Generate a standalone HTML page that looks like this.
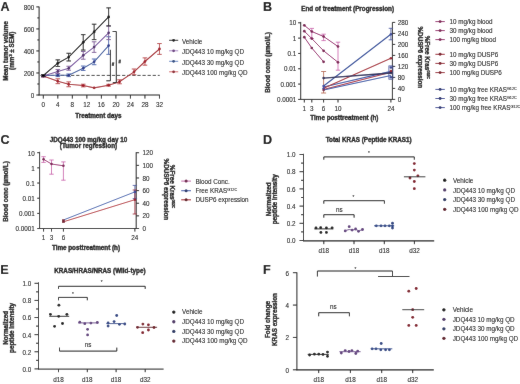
<!DOCTYPE html>
<html><head><meta charset="utf-8"><style>
html,body{margin:0;padding:0;background:#fff;}
body{width:520px;height:384px;overflow:hidden;}
svg{display:block;font-family:"Liberation Sans",sans-serif;}
</style></head><body>
<svg width="520" height="384" viewBox="0 0 520 384">
<defs><filter id="bl" x="0" y="0" width="520" height="384" filterUnits="userSpaceOnUse"><feConvolveMatrix order="3" kernelMatrix="1 2 1 2 60 2 1 2 1" divisor="72" edgeMode="duplicate" preserveAlpha="true"/></filter></defs>
<rect width="520" height="384" fill="#fff"/>
<g filter="url(#bl)"><rect width="520" height="384" fill="#fff"/>
<text x="0.6" y="10.8" font-size="12.6" font-weight="bold" fill="#000" stroke="#000" stroke-width="0.12">A</text>
<text x="263.0" y="10.8" font-size="12.6" font-weight="bold" fill="#000" stroke="#000" stroke-width="0.12">B</text>
<text x="0.4" y="143.5" font-size="12.6" font-weight="bold" fill="#000" stroke="#000" stroke-width="0.12">C</text>
<text x="262.9" y="143.5" font-size="12.6" font-weight="bold" fill="#000" stroke="#000" stroke-width="0.12">D</text>
<text x="0.2" y="274.1" font-size="12.6" font-weight="bold" fill="#000" stroke="#000" stroke-width="0.12">E</text>
<text x="263.1" y="274.1" font-size="12.6" font-weight="bold" fill="#000" stroke="#000" stroke-width="0.12">F</text>
<line x1="39.10" y1="6.60" x2="39.10" y2="95.40" stroke="#1a1a1a" stroke-width="1.0"/>
<line x1="36.30" y1="95.00" x2="39.10" y2="95.00" stroke="#1a1a1a" stroke-width="1.0"/>
<text x="34.20" y="97.77" font-size="6.3" text-anchor="end" fill="#111" stroke="#111" stroke-width="0.08">0</text>
<line x1="37.30" y1="83.99" x2="39.10" y2="83.99" stroke="#1a1a1a" stroke-width="1.0"/>
<line x1="36.30" y1="72.97" x2="39.10" y2="72.97" stroke="#1a1a1a" stroke-width="1.0"/>
<text x="34.20" y="75.74" font-size="6.3" text-anchor="end" fill="#111" stroke="#111" stroke-width="0.08">200</text>
<line x1="37.30" y1="61.96" x2="39.10" y2="61.96" stroke="#1a1a1a" stroke-width="1.0"/>
<line x1="36.30" y1="50.95" x2="39.10" y2="50.95" stroke="#1a1a1a" stroke-width="1.0"/>
<text x="34.20" y="53.72" font-size="6.3" text-anchor="end" fill="#111" stroke="#111" stroke-width="0.08">400</text>
<line x1="37.30" y1="39.94" x2="39.10" y2="39.94" stroke="#1a1a1a" stroke-width="1.0"/>
<line x1="36.30" y1="28.93" x2="39.10" y2="28.93" stroke="#1a1a1a" stroke-width="1.0"/>
<text x="34.20" y="31.69" font-size="6.3" text-anchor="end" fill="#111" stroke="#111" stroke-width="0.08">600</text>
<line x1="37.30" y1="17.91" x2="39.10" y2="17.91" stroke="#1a1a1a" stroke-width="1.0"/>
<line x1="36.30" y1="6.90" x2="39.10" y2="6.90" stroke="#1a1a1a" stroke-width="1.0"/>
<text x="34.20" y="9.67" font-size="6.3" text-anchor="end" fill="#111" stroke="#111" stroke-width="0.08">800</text>
<line x1="38.60" y1="95.00" x2="159.90" y2="95.00" stroke="#1a1a1a" stroke-width="1.0"/>
<line x1="43.30" y1="95.00" x2="43.30" y2="98.60" stroke="#1a1a1a" stroke-width="1.0"/>
<text x="43.30" y="106.97" font-size="6.3" text-anchor="middle" fill="#111" stroke="#111" stroke-width="0.08">0</text>
<line x1="57.82" y1="95.00" x2="57.82" y2="98.60" stroke="#1a1a1a" stroke-width="1.0"/>
<text x="57.82" y="106.97" font-size="6.3" text-anchor="middle" fill="#111" stroke="#111" stroke-width="0.08">4</text>
<line x1="72.34" y1="95.00" x2="72.34" y2="98.60" stroke="#1a1a1a" stroke-width="1.0"/>
<text x="72.34" y="106.97" font-size="6.3" text-anchor="middle" fill="#111" stroke="#111" stroke-width="0.08">8</text>
<line x1="86.86" y1="95.00" x2="86.86" y2="98.60" stroke="#1a1a1a" stroke-width="1.0"/>
<text x="86.86" y="106.97" font-size="6.3" text-anchor="middle" fill="#111" stroke="#111" stroke-width="0.08">12</text>
<line x1="101.38" y1="95.00" x2="101.38" y2="98.60" stroke="#1a1a1a" stroke-width="1.0"/>
<text x="101.38" y="106.97" font-size="6.3" text-anchor="middle" fill="#111" stroke="#111" stroke-width="0.08">16</text>
<line x1="115.90" y1="95.00" x2="115.90" y2="98.60" stroke="#1a1a1a" stroke-width="1.0"/>
<text x="115.90" y="106.97" font-size="6.3" text-anchor="middle" fill="#111" stroke="#111" stroke-width="0.08">20</text>
<line x1="130.42" y1="95.00" x2="130.42" y2="98.60" stroke="#1a1a1a" stroke-width="1.0"/>
<text x="130.42" y="106.97" font-size="6.3" text-anchor="middle" fill="#111" stroke="#111" stroke-width="0.08">24</text>
<line x1="144.94" y1="95.00" x2="144.94" y2="98.60" stroke="#1a1a1a" stroke-width="1.0"/>
<text x="144.94" y="106.97" font-size="6.3" text-anchor="middle" fill="#111" stroke="#111" stroke-width="0.08">28</text>
<line x1="159.46" y1="95.00" x2="159.46" y2="98.60" stroke="#1a1a1a" stroke-width="1.0"/>
<text x="159.46" y="106.97" font-size="6.3" text-anchor="middle" fill="#111" stroke="#111" stroke-width="0.08">32</text>
<text x="98.30" y="118.27" font-size="6.3" text-anchor="middle" font-weight="bold" fill="#111" stroke="#111" stroke-width="0.32">Treatment days</text>
<text x="7.70" y="51.00" font-size="6.3" text-anchor="middle" font-weight="bold" fill="#111" stroke="#111" stroke-width="0.32" transform="rotate(-90 7.70 51.00)">Mean tumor volume</text>
<text x="14.40" y="50.80" font-size="6.3" text-anchor="middle" font-weight="bold" fill="#111" stroke="#111" stroke-width="0.32" transform="rotate(-90 14.40 50.80)">(mm<tspan font-size="4" dy="-2">3</tspan><tspan dy="2"> ± SEM)</tspan></text>
<line x1="40.50" y1="75.40" x2="159.70" y2="75.40" stroke="#222" stroke-width="0.9" stroke-dasharray="3.2,1.9"/>
<line x1="43.30" y1="75.18" x2="43.30" y2="76.94" stroke="#b84448" stroke-width="0.95"/>
<line x1="41.00" y1="75.18" x2="45.60" y2="75.18" stroke="#b84448" stroke-width="0.95"/>
<line x1="41.00" y1="76.94" x2="45.60" y2="76.94" stroke="#b84448" stroke-width="0.95"/>
<line x1="57.82" y1="78.81" x2="57.82" y2="83.66" stroke="#b84448" stroke-width="0.95"/>
<line x1="55.52" y1="78.81" x2="60.12" y2="78.81" stroke="#b84448" stroke-width="0.95"/>
<line x1="55.52" y1="83.66" x2="60.12" y2="83.66" stroke="#b84448" stroke-width="0.95"/>
<line x1="68.71" y1="81.90" x2="68.71" y2="86.74" stroke="#b84448" stroke-width="0.95"/>
<line x1="66.41" y1="81.90" x2="71.01" y2="81.90" stroke="#b84448" stroke-width="0.95"/>
<line x1="66.41" y1="86.74" x2="71.01" y2="86.74" stroke="#b84448" stroke-width="0.95"/>
<line x1="83.23" y1="84.21" x2="83.23" y2="86.85" stroke="#b84448" stroke-width="0.95"/>
<line x1="80.93" y1="84.21" x2="85.53" y2="84.21" stroke="#b84448" stroke-width="0.95"/>
<line x1="80.93" y1="86.85" x2="85.53" y2="86.85" stroke="#b84448" stroke-width="0.95"/>
<line x1="108.64" y1="84.32" x2="108.64" y2="86.08" stroke="#b84448" stroke-width="0.95"/>
<line x1="106.34" y1="84.32" x2="110.94" y2="84.32" stroke="#b84448" stroke-width="0.95"/>
<line x1="106.34" y1="86.08" x2="110.94" y2="86.08" stroke="#b84448" stroke-width="0.95"/>
<line x1="119.53" y1="79.80" x2="119.53" y2="83.77" stroke="#b84448" stroke-width="0.95"/>
<line x1="117.23" y1="79.80" x2="121.83" y2="79.80" stroke="#b84448" stroke-width="0.95"/>
<line x1="117.23" y1="83.77" x2="121.83" y2="83.77" stroke="#b84448" stroke-width="0.95"/>
<line x1="134.05" y1="69.01" x2="134.05" y2="74.74" stroke="#b84448" stroke-width="0.95"/>
<line x1="131.75" y1="69.01" x2="136.35" y2="69.01" stroke="#b84448" stroke-width="0.95"/>
<line x1="131.75" y1="74.74" x2="136.35" y2="74.74" stroke="#b84448" stroke-width="0.95"/>
<line x1="144.94" y1="57.89" x2="144.94" y2="65.16" stroke="#b84448" stroke-width="0.95"/>
<line x1="142.64" y1="57.89" x2="147.24" y2="57.89" stroke="#b84448" stroke-width="0.95"/>
<line x1="142.64" y1="65.16" x2="147.24" y2="65.16" stroke="#b84448" stroke-width="0.95"/>
<line x1="159.46" y1="43.57" x2="159.46" y2="54.36" stroke="#b84448" stroke-width="0.95"/>
<line x1="157.16" y1="43.57" x2="161.76" y2="43.57" stroke="#b84448" stroke-width="0.95"/>
<line x1="157.16" y1="54.36" x2="161.76" y2="54.36" stroke="#b84448" stroke-width="0.95"/>
<polyline points="43.30,76.06 57.82,81.23 68.71,84.32 83.23,85.53 94.12,87.84 108.64,85.20 119.53,81.78 134.05,71.87 144.94,61.52 159.46,48.97" fill="none" stroke="#a82a30" stroke-width="1.1"/>
<circle cx="43.30" cy="76.06" r="1.35" fill="#a01020"/>
<circle cx="57.82" cy="81.23" r="1.35" fill="#a01020"/>
<circle cx="68.71" cy="84.32" r="1.35" fill="#a01020"/>
<circle cx="83.23" cy="85.53" r="1.35" fill="#a01020"/>
<circle cx="94.12" cy="87.84" r="1.35" fill="#a01020"/>
<circle cx="108.64" cy="85.20" r="1.35" fill="#a01020"/>
<circle cx="119.53" cy="81.78" r="1.35" fill="#a01020"/>
<circle cx="134.05" cy="71.87" r="1.35" fill="#a01020"/>
<circle cx="144.94" cy="61.52" r="1.35" fill="#a01020"/>
<circle cx="159.46" cy="48.97" r="1.35" fill="#a01020"/>
<line x1="43.30" y1="74.63" x2="43.30" y2="76.39" stroke="#4a66ae" stroke-width="0.95"/>
<line x1="41.00" y1="74.63" x2="45.60" y2="74.63" stroke="#4a66ae" stroke-width="0.95"/>
<line x1="41.00" y1="76.39" x2="45.60" y2="76.39" stroke="#4a66ae" stroke-width="0.95"/>
<line x1="57.82" y1="73.97" x2="57.82" y2="76.61" stroke="#4a66ae" stroke-width="0.95"/>
<line x1="55.52" y1="73.97" x2="60.12" y2="73.97" stroke="#4a66ae" stroke-width="0.95"/>
<line x1="55.52" y1="76.61" x2="60.12" y2="76.61" stroke="#4a66ae" stroke-width="0.95"/>
<line x1="68.71" y1="73.97" x2="68.71" y2="76.61" stroke="#4a66ae" stroke-width="0.95"/>
<line x1="66.41" y1="73.97" x2="71.01" y2="73.97" stroke="#4a66ae" stroke-width="0.95"/>
<line x1="66.41" y1="76.61" x2="71.01" y2="76.61" stroke="#4a66ae" stroke-width="0.95"/>
<line x1="83.23" y1="66.04" x2="83.23" y2="70.44" stroke="#4a66ae" stroke-width="0.95"/>
<line x1="80.93" y1="66.04" x2="85.53" y2="66.04" stroke="#4a66ae" stroke-width="0.95"/>
<line x1="80.93" y1="70.44" x2="85.53" y2="70.44" stroke="#4a66ae" stroke-width="0.95"/>
<line x1="94.12" y1="58.99" x2="94.12" y2="64.72" stroke="#4a66ae" stroke-width="0.95"/>
<line x1="91.82" y1="58.99" x2="96.42" y2="58.99" stroke="#4a66ae" stroke-width="0.95"/>
<line x1="91.82" y1="64.72" x2="96.42" y2="64.72" stroke="#4a66ae" stroke-width="0.95"/>
<line x1="108.64" y1="36.74" x2="108.64" y2="54.36" stroke="#4a66ae" stroke-width="0.95"/>
<line x1="106.34" y1="36.74" x2="110.94" y2="36.74" stroke="#4a66ae" stroke-width="0.95"/>
<line x1="106.34" y1="54.36" x2="110.94" y2="54.36" stroke="#4a66ae" stroke-width="0.95"/>
<polyline points="43.30,75.51 57.82,75.29 68.71,75.29 83.23,68.24 94.12,61.85 108.64,45.55" fill="none" stroke="#4360a0" stroke-width="1.1"/>
<circle cx="43.30" cy="75.51" r="1.35" fill="#27348a"/>
<circle cx="57.82" cy="75.29" r="1.35" fill="#27348a"/>
<circle cx="68.71" cy="75.29" r="1.35" fill="#27348a"/>
<circle cx="83.23" cy="68.24" r="1.35" fill="#27348a"/>
<circle cx="94.12" cy="61.85" r="1.35" fill="#27348a"/>
<circle cx="108.64" cy="45.55" r="1.35" fill="#27348a"/>
<line x1="43.30" y1="75.18" x2="43.30" y2="76.94" stroke="#7e5c98" stroke-width="0.95"/>
<line x1="41.00" y1="75.18" x2="45.60" y2="75.18" stroke="#7e5c98" stroke-width="0.95"/>
<line x1="41.00" y1="76.94" x2="45.60" y2="76.94" stroke="#7e5c98" stroke-width="0.95"/>
<line x1="57.82" y1="69.45" x2="57.82" y2="73.42" stroke="#7e5c98" stroke-width="0.95"/>
<line x1="55.52" y1="69.45" x2="60.12" y2="69.45" stroke="#7e5c98" stroke-width="0.95"/>
<line x1="55.52" y1="73.42" x2="60.12" y2="73.42" stroke="#7e5c98" stroke-width="0.95"/>
<line x1="68.71" y1="66.26" x2="68.71" y2="70.22" stroke="#7e5c98" stroke-width="0.95"/>
<line x1="66.41" y1="66.26" x2="71.01" y2="66.26" stroke="#7e5c98" stroke-width="0.95"/>
<line x1="66.41" y1="70.22" x2="71.01" y2="70.22" stroke="#7e5c98" stroke-width="0.95"/>
<line x1="83.23" y1="51.50" x2="83.23" y2="59.21" stroke="#7e5c98" stroke-width="0.95"/>
<line x1="80.93" y1="51.50" x2="85.53" y2="51.50" stroke="#7e5c98" stroke-width="0.95"/>
<line x1="80.93" y1="59.21" x2="85.53" y2="59.21" stroke="#7e5c98" stroke-width="0.95"/>
<line x1="94.12" y1="41.81" x2="94.12" y2="52.38" stroke="#7e5c98" stroke-width="0.95"/>
<line x1="91.82" y1="41.81" x2="96.42" y2="41.81" stroke="#7e5c98" stroke-width="0.95"/>
<line x1="91.82" y1="52.38" x2="96.42" y2="52.38" stroke="#7e5c98" stroke-width="0.95"/>
<line x1="108.64" y1="25.95" x2="108.64" y2="39.61" stroke="#7e5c98" stroke-width="0.95"/>
<line x1="106.34" y1="25.95" x2="110.94" y2="25.95" stroke="#7e5c98" stroke-width="0.95"/>
<line x1="106.34" y1="39.61" x2="110.94" y2="39.61" stroke="#7e5c98" stroke-width="0.95"/>
<polyline points="43.30,76.06 57.82,71.43 68.71,68.24 83.23,55.36 94.12,47.10 108.64,32.78" fill="none" stroke="#7a56a0" stroke-width="1.1"/>
<circle cx="43.30" cy="76.06" r="1.35" fill="#4e2a6a"/>
<circle cx="57.82" cy="71.43" r="1.35" fill="#4e2a6a"/>
<circle cx="68.71" cy="68.24" r="1.35" fill="#4e2a6a"/>
<circle cx="83.23" cy="55.36" r="1.35" fill="#4e2a6a"/>
<circle cx="94.12" cy="47.10" r="1.35" fill="#4e2a6a"/>
<circle cx="108.64" cy="32.78" r="1.35" fill="#4e2a6a"/>
<line x1="43.30" y1="74.63" x2="43.30" y2="76.39" stroke="#111" stroke-width="0.95"/>
<line x1="41.00" y1="74.63" x2="45.60" y2="74.63" stroke="#111" stroke-width="0.95"/>
<line x1="41.00" y1="76.39" x2="45.60" y2="76.39" stroke="#111" stroke-width="0.95"/>
<line x1="57.82" y1="59.87" x2="57.82" y2="66.48" stroke="#111" stroke-width="0.95"/>
<line x1="55.52" y1="59.87" x2="60.12" y2="59.87" stroke="#111" stroke-width="0.95"/>
<line x1="55.52" y1="66.48" x2="60.12" y2="66.48" stroke="#111" stroke-width="0.95"/>
<line x1="68.71" y1="53.26" x2="68.71" y2="60.97" stroke="#111" stroke-width="0.95"/>
<line x1="66.41" y1="53.26" x2="71.01" y2="53.26" stroke="#111" stroke-width="0.95"/>
<line x1="66.41" y1="60.97" x2="71.01" y2="60.97" stroke="#111" stroke-width="0.95"/>
<line x1="83.23" y1="34.65" x2="83.23" y2="50.07" stroke="#111" stroke-width="0.95"/>
<line x1="80.93" y1="34.65" x2="85.53" y2="34.65" stroke="#111" stroke-width="0.95"/>
<line x1="80.93" y1="50.07" x2="85.53" y2="50.07" stroke="#111" stroke-width="0.95"/>
<line x1="94.12" y1="24.19" x2="94.12" y2="39.61" stroke="#111" stroke-width="0.95"/>
<line x1="91.82" y1="24.19" x2="96.42" y2="24.19" stroke="#111" stroke-width="0.95"/>
<line x1="91.82" y1="39.61" x2="96.42" y2="39.61" stroke="#111" stroke-width="0.95"/>
<line x1="108.64" y1="7.89" x2="108.64" y2="25.95" stroke="#111" stroke-width="0.95"/>
<line x1="106.34" y1="7.89" x2="110.94" y2="7.89" stroke="#111" stroke-width="0.95"/>
<line x1="106.34" y1="25.95" x2="110.94" y2="25.95" stroke="#111" stroke-width="0.95"/>
<polyline points="43.30,75.51 57.82,63.17 68.71,57.12 83.23,42.36 94.12,31.90 108.64,16.92" fill="none" stroke="#111" stroke-width="1.1"/>
<circle cx="43.30" cy="75.51" r="1.35" fill="#000"/>
<circle cx="57.82" cy="63.17" r="1.35" fill="#000"/>
<circle cx="68.71" cy="57.12" r="1.35" fill="#000"/>
<circle cx="83.23" cy="42.36" r="1.35" fill="#000"/>
<circle cx="94.12" cy="31.90" r="1.35" fill="#000"/>
<circle cx="108.64" cy="16.92" r="1.35" fill="#000"/>
<polyline points="110.40,49.80 110.40,80.80 106.30,80.80" fill="none" stroke="#111" stroke-width="1.0"/>
<line x1="112.30" y1="66.00" x2="112.80" y2="62.20" stroke="#111" stroke-width="0.7"/>
<line x1="113.30" y1="66.00" x2="113.80" y2="62.20" stroke="#111" stroke-width="0.7"/>
<line x1="111.90" y1="63.40" x2="114.10" y2="63.40" stroke="#111" stroke-width="0.6"/>
<line x1="111.70" y1="64.80" x2="113.90" y2="64.80" stroke="#111" stroke-width="0.6"/>
<polyline points="112.60,31.50 116.30,31.50 116.30,82.60 112.80,82.60" fill="none" stroke="#111" stroke-width="1.0"/>
<line x1="119.00" y1="63.40" x2="119.50" y2="59.60" stroke="#111" stroke-width="0.7"/>
<line x1="120.00" y1="63.40" x2="120.50" y2="59.60" stroke="#111" stroke-width="0.7"/>
<line x1="118.60" y1="60.80" x2="120.80" y2="60.80" stroke="#111" stroke-width="0.6"/>
<line x1="118.40" y1="62.20" x2="120.60" y2="62.20" stroke="#111" stroke-width="0.6"/>
<line x1="169.10" y1="40.30" x2="178.20" y2="40.30" stroke="#111" stroke-width="0.9"/>
<circle cx="173.60" cy="40.30" r="1.35" fill="#000"/>
<text x="182.00" y="43.67" font-size="6.3" text-anchor="start" fill="#111" stroke="#111" stroke-width="0.08">Vehicle</text>
<line x1="169.10" y1="50.80" x2="178.20" y2="50.80" stroke="#a07cc0" stroke-width="0.9"/>
<circle cx="173.60" cy="50.80" r="1.35" fill="#6a3f80"/>
<text x="182.00" y="54.17" font-size="6.3" text-anchor="start" fill="#111" stroke="#111" stroke-width="0.08">JDQ443 10 mg/kg QD</text>
<line x1="169.10" y1="61.30" x2="178.20" y2="61.30" stroke="#5a7cc0" stroke-width="0.9"/>
<circle cx="173.60" cy="61.30" r="1.35" fill="#2a4a80"/>
<text x="182.00" y="64.67" font-size="6.3" text-anchor="start" fill="#111" stroke="#111" stroke-width="0.08">JDQ443 30 mg/kg QD</text>
<line x1="169.10" y1="71.80" x2="178.20" y2="71.80" stroke="#d05a5a" stroke-width="0.9"/>
<circle cx="173.60" cy="71.80" r="1.35" fill="#8a1a2a"/>
<text x="182.00" y="75.17" font-size="6.3" text-anchor="start" fill="#111" stroke="#111" stroke-width="0.08">JDQ443 100 mg/kg QD</text>
<text x="301.30" y="11.47" font-size="6.3" text-anchor="start" font-weight="bold" fill="#111" stroke="#111" stroke-width="0.32">End of treatment (Progression)</text>
<line x1="300.70" y1="21.90" x2="300.70" y2="99.80" stroke="#1a1a1a" stroke-width="1.0"/>
<line x1="298.10" y1="22.80" x2="300.70" y2="22.80" stroke="#1a1a1a" stroke-width="1.0"/>
<text x="296.30" y="25.47" font-size="6.3" text-anchor="end" fill="#111" stroke="#111" stroke-width="0.08">10</text>
<line x1="298.10" y1="38.12" x2="300.70" y2="38.12" stroke="#1a1a1a" stroke-width="1.0"/>
<text x="296.30" y="40.79" font-size="6.3" text-anchor="end" fill="#111" stroke="#111" stroke-width="0.08">1</text>
<line x1="298.10" y1="53.44" x2="300.70" y2="53.44" stroke="#1a1a1a" stroke-width="1.0"/>
<text x="296.30" y="56.11" font-size="6.3" text-anchor="end" fill="#111" stroke="#111" stroke-width="0.08">0.1</text>
<line x1="298.10" y1="68.76" x2="300.70" y2="68.76" stroke="#1a1a1a" stroke-width="1.0"/>
<text x="296.30" y="71.43" font-size="6.3" text-anchor="end" fill="#111" stroke="#111" stroke-width="0.08">0.01</text>
<line x1="298.10" y1="84.08" x2="300.70" y2="84.08" stroke="#1a1a1a" stroke-width="1.0"/>
<text x="296.30" y="86.75" font-size="6.3" text-anchor="end" fill="#111" stroke="#111" stroke-width="0.08">0.001</text>
<line x1="298.10" y1="99.40" x2="300.70" y2="99.40" stroke="#1a1a1a" stroke-width="1.0"/>
<text x="296.30" y="102.07" font-size="6.3" text-anchor="end" fill="#111" stroke="#111" stroke-width="0.08">0.0001</text>
<line x1="300.25" y1="99.40" x2="392.85" y2="99.40" stroke="#1a1a1a" stroke-width="1.0"/>
<line x1="304.30" y1="99.40" x2="304.30" y2="102.50" stroke="#1a1a1a" stroke-width="1.0"/>
<text x="304.30" y="111.07" font-size="6.3" text-anchor="middle" fill="#111" stroke="#111" stroke-width="0.08">1</text>
<line x1="311.80" y1="99.40" x2="311.80" y2="102.50" stroke="#1a1a1a" stroke-width="1.0"/>
<text x="311.80" y="111.07" font-size="6.3" text-anchor="middle" fill="#111" stroke="#111" stroke-width="0.08">3</text>
<line x1="323.60" y1="99.40" x2="323.60" y2="102.50" stroke="#1a1a1a" stroke-width="1.0"/>
<text x="323.60" y="111.07" font-size="6.3" text-anchor="middle" fill="#111" stroke="#111" stroke-width="0.08">6</text>
<line x1="338.00" y1="99.40" x2="338.00" y2="102.50" stroke="#1a1a1a" stroke-width="1.0"/>
<text x="338.00" y="111.07" font-size="6.3" text-anchor="middle" fill="#111" stroke="#111" stroke-width="0.08">10</text>
<line x1="390.90" y1="99.40" x2="390.90" y2="102.50" stroke="#1a1a1a" stroke-width="1.0"/>
<text x="390.90" y="111.07" font-size="6.3" text-anchor="middle" fill="#111" stroke="#111" stroke-width="0.08">24</text>
<line x1="392.40" y1="22.30" x2="392.40" y2="99.80" stroke="#1a1a1a" stroke-width="1.0"/>
<line x1="392.40" y1="99.40" x2="395.20" y2="99.40" stroke="#1a1a1a" stroke-width="1.0"/>
<text x="397.70" y="101.97" font-size="6.3" text-anchor="start" fill="#111" stroke="#111" stroke-width="0.08">0</text>
<line x1="392.40" y1="88.40" x2="395.20" y2="88.40" stroke="#1a1a1a" stroke-width="1.0"/>
<text x="397.70" y="90.97" font-size="6.3" text-anchor="start" fill="#111" stroke="#111" stroke-width="0.08">40</text>
<line x1="392.40" y1="77.40" x2="395.20" y2="77.40" stroke="#1a1a1a" stroke-width="1.0"/>
<text x="397.70" y="79.97" font-size="6.3" text-anchor="start" fill="#111" stroke="#111" stroke-width="0.08">80</text>
<line x1="392.40" y1="66.40" x2="395.20" y2="66.40" stroke="#1a1a1a" stroke-width="1.0"/>
<text x="397.70" y="68.97" font-size="6.3" text-anchor="start" fill="#111" stroke="#111" stroke-width="0.08">120</text>
<line x1="392.40" y1="55.40" x2="395.20" y2="55.40" stroke="#1a1a1a" stroke-width="1.0"/>
<text x="397.70" y="57.97" font-size="6.3" text-anchor="start" fill="#111" stroke="#111" stroke-width="0.08">160</text>
<line x1="392.40" y1="44.40" x2="395.20" y2="44.40" stroke="#1a1a1a" stroke-width="1.0"/>
<text x="397.70" y="46.97" font-size="6.3" text-anchor="start" fill="#111" stroke="#111" stroke-width="0.08">200</text>
<line x1="392.40" y1="33.40" x2="395.20" y2="33.40" stroke="#1a1a1a" stroke-width="1.0"/>
<text x="397.70" y="35.97" font-size="6.3" text-anchor="start" fill="#111" stroke="#111" stroke-width="0.08">240</text>
<line x1="392.40" y1="22.40" x2="395.20" y2="22.40" stroke="#1a1a1a" stroke-width="1.0"/>
<text x="397.70" y="24.97" font-size="6.3" text-anchor="start" fill="#111" stroke="#111" stroke-width="0.08">280</text>
<text x="344.40" y="120.27" font-size="6.3" text-anchor="middle" font-weight="bold" fill="#111" stroke="#111" stroke-width="0.32">Time posttreatment (h)</text>
<text x="270.30" y="62.40" font-size="6.3" text-anchor="middle" font-weight="bold" fill="#111" stroke="#111" stroke-width="0.32" transform="rotate(-90 270.30 62.40)">Blood conc (µmol/L)</text>
<text x="425.00" y="57.30" font-size="6.3" text-anchor="middle" font-weight="bold" fill="#111" stroke="#111" stroke-width="0.32" transform="rotate(90 425.00 57.30)">%Free Kras<tspan font-size="3.3" dy="-2.3">G12C</tspan></text>
<text x="417.60" y="57.30" font-size="6.3" text-anchor="middle" font-weight="bold" fill="#111" stroke="#111" stroke-width="0.32" transform="rotate(90 417.60 57.30)">%DUSP6 expression</text>
<line x1="311.80" y1="28.40" x2="311.80" y2="38.60" stroke="#c85aa8" stroke-width="0.8"/>
<line x1="309.60" y1="28.40" x2="314.00" y2="28.40" stroke="#c85aa8" stroke-width="0.8"/>
<line x1="309.60" y1="38.60" x2="314.00" y2="38.60" stroke="#c85aa8" stroke-width="0.8"/>
<line x1="323.60" y1="34.20" x2="323.60" y2="40.60" stroke="#c85aa8" stroke-width="0.8"/>
<line x1="321.40" y1="34.20" x2="325.80" y2="34.20" stroke="#c85aa8" stroke-width="0.8"/>
<line x1="321.40" y1="40.60" x2="325.80" y2="40.60" stroke="#c85aa8" stroke-width="0.8"/>
<line x1="338.00" y1="42.20" x2="338.00" y2="70.20" stroke="#c85aa8" stroke-width="0.8"/>
<line x1="335.80" y1="42.20" x2="340.20" y2="42.20" stroke="#c85aa8" stroke-width="0.8"/>
<line x1="335.80" y1="70.20" x2="340.20" y2="70.20" stroke="#c85aa8" stroke-width="0.8"/>
<polyline points="304.30,25.30 311.80,31.50 323.60,36.50 338.00,46.50" fill="none" stroke="#9a2a70" stroke-width="1.0"/>
<circle cx="304.30" cy="25.30" r="1.35" fill="#7a1850"/>
<circle cx="311.80" cy="31.50" r="1.35" fill="#7a1850"/>
<circle cx="323.60" cy="36.50" r="1.35" fill="#7a1850"/>
<circle cx="338.00" cy="46.50" r="1.35" fill="#7a1850"/>
<polyline points="304.30,31.20 311.80,38.60 323.60,50.80 338.00,62.30" fill="none" stroke="#9a2a70" stroke-width="1.0"/>
<circle cx="304.30" cy="31.20" r="1.35" fill="#7a1850"/>
<circle cx="311.80" cy="38.60" r="1.35" fill="#7a1850"/>
<circle cx="323.60" cy="50.80" r="1.35" fill="#7a1850"/>
<circle cx="338.00" cy="62.30" r="1.35" fill="#7a1850"/>
<polyline points="304.30,37.20 311.80,48.00 323.60,61.80" fill="none" stroke="#9a2a70" stroke-width="1.0"/>
<circle cx="304.30" cy="37.20" r="1.35" fill="#7a1850"/>
<circle cx="311.80" cy="48.00" r="1.35" fill="#7a1850"/>
<circle cx="323.60" cy="61.80" r="1.35" fill="#7a1850"/>
<line x1="323.60" y1="71.50" x2="323.60" y2="93.00" stroke="#b05a40" stroke-width="0.8"/>
<line x1="321.10" y1="71.50" x2="326.10" y2="71.50" stroke="#b05a40" stroke-width="0.8"/>
<line x1="321.10" y1="93.00" x2="326.10" y2="93.00" stroke="#b05a40" stroke-width="0.8"/>
<line x1="390.90" y1="28.30" x2="390.90" y2="39.80" stroke="#3e4c9a" stroke-width="0.8"/>
<line x1="388.70" y1="28.30" x2="393.10" y2="28.30" stroke="#3e4c9a" stroke-width="0.8"/>
<line x1="388.70" y1="39.80" x2="393.10" y2="39.80" stroke="#3e4c9a" stroke-width="0.8"/>
<rect x="388.90" y="65.9" width="4" height="13.3" fill="none" stroke="#3e4c9a" stroke-width="0.8"/>
<polyline points="323.60,89.50 390.90,72.20" fill="none" stroke="#b03545" stroke-width="1.1"/>
<polyline points="323.60,87.00 390.90,71.40" fill="none" stroke="#3c5aa8" stroke-width="1.1"/>
<polyline points="323.60,88.20 390.90,58.30" fill="none" stroke="#a8323c" stroke-width="1.1"/>
<polyline points="323.60,86.00 390.90,34.20" fill="none" stroke="#34509c" stroke-width="1.2"/>
<polyline points="323.60,78.10 390.90,73.00" fill="none" stroke="#2a2a5a" stroke-width="1.4"/>
<polyline points="323.60,90.00 390.90,75.50" fill="none" stroke="#3c5aa8" stroke-width="1.1"/>
<circle cx="323.60" cy="78.10" r="1.3" fill="#2a2a55"/>
<circle cx="323.60" cy="86.00" r="1.3" fill="#3a48a0"/>
<circle cx="323.60" cy="88.50" r="1.3" fill="#3a48a0"/>
<circle cx="323.60" cy="90.00" r="1.3" fill="#7a2a50"/>
<circle cx="390.90" cy="34.20" r="1.3" fill="#3e4c9a"/>
<circle cx="390.90" cy="58.30" r="1.3" fill="#9a1f2e"/>
<circle cx="390.90" cy="67.50" r="1.3" fill="#3e4c9a"/>
<circle cx="390.90" cy="71.00" r="1.3" fill="#9a1f2e"/>
<circle cx="390.90" cy="73.00" r="1.3" fill="#2a2a55"/>
<circle cx="390.90" cy="77.30" r="1.3" fill="#3e4c9a"/>
<line x1="435.40" y1="21.60" x2="444.80" y2="21.60" stroke="#9a2a70" stroke-width="1.0"/>
<circle cx="440.10" cy="21.60" r="1.45" fill="#7a1850"/>
<text x="449.50" y="24.07" font-size="6.3" text-anchor="start" fill="#111" stroke="#111" stroke-width="0.08">10 mg/kg blood</text>
<line x1="435.40" y1="30.60" x2="444.80" y2="30.60" stroke="#9a2a70" stroke-width="1.0"/>
<circle cx="440.10" cy="30.60" r="1.45" fill="#7a1850"/>
<text x="449.50" y="33.07" font-size="6.3" text-anchor="start" fill="#111" stroke="#111" stroke-width="0.08">30 mg/kg blood</text>
<line x1="435.40" y1="39.60" x2="444.80" y2="39.60" stroke="#9a2a70" stroke-width="1.0"/>
<circle cx="440.10" cy="39.60" r="1.45" fill="#7a1850"/>
<text x="449.50" y="42.07" font-size="6.3" text-anchor="start" fill="#111" stroke="#111" stroke-width="0.08">100 mg/kg blood</text>
<line x1="435.40" y1="54.30" x2="444.80" y2="54.30" stroke="#9a1f2e" stroke-width="1.0"/>
<circle cx="440.10" cy="54.30" r="1.45" fill="#7a1020"/>
<text x="449.50" y="56.77" font-size="6.3" text-anchor="start" fill="#111" stroke="#111" stroke-width="0.08">10 mg/kg DUSP6</text>
<line x1="435.40" y1="63.40" x2="444.80" y2="63.40" stroke="#9a1f2e" stroke-width="1.0"/>
<circle cx="440.10" cy="63.40" r="1.45" fill="#7a1020"/>
<text x="449.50" y="65.87" font-size="6.3" text-anchor="start" fill="#111" stroke="#111" stroke-width="0.08">30 mg/kg DUSP6</text>
<line x1="435.40" y1="72.60" x2="444.80" y2="72.60" stroke="#9a1f2e" stroke-width="1.0"/>
<circle cx="440.10" cy="72.60" r="1.45" fill="#7a1020"/>
<text x="449.50" y="75.07" font-size="6.3" text-anchor="start" fill="#111" stroke="#111" stroke-width="0.08">100 mg/kg DUSP6</text>
<line x1="435.40" y1="89.40" x2="444.80" y2="89.40" stroke="#3e4c9a" stroke-width="1.0"/>
<circle cx="440.10" cy="89.40" r="1.45" fill="#26306e"/>
<text x="449.50" y="91.87" font-size="6.3" text-anchor="start" fill="#111" stroke="#111" stroke-width="0.08">10 mg/kg free KRAS<tspan font-size="3.8" dy="-2.2">G12C</tspan></text>
<line x1="435.40" y1="98.50" x2="444.80" y2="98.50" stroke="#3e4c9a" stroke-width="1.0"/>
<circle cx="440.10" cy="98.50" r="1.45" fill="#26306e"/>
<text x="449.50" y="100.97" font-size="6.3" text-anchor="start" fill="#111" stroke="#111" stroke-width="0.08">30 mg/kg free KRAS<tspan font-size="3.8" dy="-2.2">G12C</tspan></text>
<line x1="435.40" y1="107.60" x2="444.80" y2="107.60" stroke="#3e4c9a" stroke-width="1.0"/>
<circle cx="440.10" cy="107.60" r="1.45" fill="#26306e"/>
<text x="449.50" y="110.07" font-size="6.3" text-anchor="start" fill="#111" stroke="#111" stroke-width="0.08">100 mg/kg free KRAS<tspan font-size="3.8" dy="-2.2">G12C</tspan></text>
<text x="88.50" y="141.77" font-size="6.3" text-anchor="middle" font-weight="bold" fill="#111" stroke="#111" stroke-width="0.32">JDQ443 100 mg/kg day 10</text>
<text x="88.50" y="148.17" font-size="6.3" text-anchor="middle" font-weight="bold" fill="#111" stroke="#111" stroke-width="0.32">(Tumor regression)</text>
<line x1="39.60" y1="151.80" x2="39.60" y2="228.90" stroke="#1a1a1a" stroke-width="1.0"/>
<line x1="37.20" y1="152.70" x2="39.60" y2="152.70" stroke="#1a1a1a" stroke-width="1.0"/>
<text x="34.80" y="155.57" font-size="6.3" text-anchor="end" fill="#111" stroke="#111" stroke-width="0.08">10</text>
<line x1="37.20" y1="167.87" x2="39.60" y2="167.87" stroke="#1a1a1a" stroke-width="1.0"/>
<text x="34.80" y="170.74" font-size="6.3" text-anchor="end" fill="#111" stroke="#111" stroke-width="0.08">1</text>
<line x1="37.20" y1="183.04" x2="39.60" y2="183.04" stroke="#1a1a1a" stroke-width="1.0"/>
<text x="34.80" y="185.91" font-size="6.3" text-anchor="end" fill="#111" stroke="#111" stroke-width="0.08">0.1</text>
<line x1="37.20" y1="198.21" x2="39.60" y2="198.21" stroke="#1a1a1a" stroke-width="1.0"/>
<text x="34.80" y="201.08" font-size="6.3" text-anchor="end" fill="#111" stroke="#111" stroke-width="0.08">0.01</text>
<line x1="37.20" y1="213.38" x2="39.60" y2="213.38" stroke="#1a1a1a" stroke-width="1.0"/>
<text x="34.80" y="216.25" font-size="6.3" text-anchor="end" fill="#111" stroke="#111" stroke-width="0.08">0.001</text>
<line x1="37.20" y1="228.55" x2="39.60" y2="228.55" stroke="#1a1a1a" stroke-width="1.0"/>
<text x="34.80" y="231.42" font-size="6.3" text-anchor="end" fill="#111" stroke="#111" stroke-width="0.08">0.0001</text>
<line x1="39.15" y1="228.50" x2="136.65" y2="228.50" stroke="#1a1a1a" stroke-width="1.0"/>
<line x1="43.57" y1="228.50" x2="43.57" y2="231.60" stroke="#1a1a1a" stroke-width="1.0"/>
<text x="43.57" y="240.07" font-size="6.3" text-anchor="middle" fill="#111" stroke="#111" stroke-width="0.08">1</text>
<line x1="51.51" y1="228.50" x2="51.51" y2="231.60" stroke="#1a1a1a" stroke-width="1.0"/>
<text x="51.51" y="240.07" font-size="6.3" text-anchor="middle" fill="#111" stroke="#111" stroke-width="0.08">3</text>
<line x1="63.42" y1="228.50" x2="63.42" y2="231.60" stroke="#1a1a1a" stroke-width="1.0"/>
<text x="63.42" y="240.07" font-size="6.3" text-anchor="middle" fill="#111" stroke="#111" stroke-width="0.08">6</text>
<line x1="134.88" y1="228.50" x2="134.88" y2="231.60" stroke="#1a1a1a" stroke-width="1.0"/>
<text x="134.88" y="240.07" font-size="6.3" text-anchor="middle" fill="#111" stroke="#111" stroke-width="0.08">24</text>
<line x1="136.20" y1="152.20" x2="136.20" y2="228.90" stroke="#1a1a1a" stroke-width="1.0"/>
<line x1="136.20" y1="228.50" x2="139.10" y2="228.50" stroke="#1a1a1a" stroke-width="1.0"/>
<text x="142.50" y="231.07" font-size="6.3" text-anchor="start" fill="#111" stroke="#111" stroke-width="0.08">0</text>
<line x1="136.20" y1="215.87" x2="139.10" y2="215.87" stroke="#1a1a1a" stroke-width="1.0"/>
<text x="142.50" y="218.44" font-size="6.3" text-anchor="start" fill="#111" stroke="#111" stroke-width="0.08">20</text>
<line x1="136.20" y1="203.24" x2="139.10" y2="203.24" stroke="#1a1a1a" stroke-width="1.0"/>
<text x="142.50" y="205.81" font-size="6.3" text-anchor="start" fill="#111" stroke="#111" stroke-width="0.08">40</text>
<line x1="136.20" y1="190.61" x2="139.10" y2="190.61" stroke="#1a1a1a" stroke-width="1.0"/>
<text x="142.50" y="193.18" font-size="6.3" text-anchor="start" fill="#111" stroke="#111" stroke-width="0.08">60</text>
<line x1="136.20" y1="177.98" x2="139.10" y2="177.98" stroke="#1a1a1a" stroke-width="1.0"/>
<text x="142.50" y="180.55" font-size="6.3" text-anchor="start" fill="#111" stroke="#111" stroke-width="0.08">80</text>
<line x1="136.20" y1="165.35" x2="139.10" y2="165.35" stroke="#1a1a1a" stroke-width="1.0"/>
<text x="142.50" y="167.92" font-size="6.3" text-anchor="start" fill="#111" stroke="#111" stroke-width="0.08">100</text>
<line x1="136.20" y1="152.72" x2="139.10" y2="152.72" stroke="#1a1a1a" stroke-width="1.0"/>
<text x="142.50" y="155.29" font-size="6.3" text-anchor="start" fill="#111" stroke="#111" stroke-width="0.08">120</text>
<text x="86.00" y="249.67" font-size="6.3" text-anchor="middle" font-weight="bold" fill="#111" stroke="#111" stroke-width="0.32">Time posttreatment (h)</text>
<text x="8.00" y="191.50" font-size="6.3" text-anchor="middle" font-weight="bold" fill="#111" stroke="#111" stroke-width="0.32" transform="rotate(-90 8.00 191.50)">Blood conc (µmol/L)</text>
<text x="169.80" y="186.50" font-size="6.3" text-anchor="middle" font-weight="bold" fill="#111" stroke="#111" stroke-width="0.32" transform="rotate(90 169.80 186.50)">%Free Kras<tspan font-size="3.3" dy="-2.3">G12C</tspan></text>
<text x="163.80" y="189.40" font-size="6.3" text-anchor="middle" font-weight="bold" fill="#111" stroke="#111" stroke-width="0.32" transform="rotate(90 163.80 189.40)">%DUSP6 expression</text>
<line x1="43.57" y1="156.70" x2="43.57" y2="162.40" stroke="#c85aa8" stroke-width="0.8"/>
<line x1="41.37" y1="156.70" x2="45.77" y2="156.70" stroke="#c85aa8" stroke-width="0.8"/>
<line x1="41.37" y1="162.40" x2="45.77" y2="162.40" stroke="#c85aa8" stroke-width="0.8"/>
<line x1="51.51" y1="160.00" x2="51.51" y2="174.20" stroke="#c85aa8" stroke-width="0.8"/>
<line x1="49.31" y1="160.00" x2="53.71" y2="160.00" stroke="#c85aa8" stroke-width="0.8"/>
<line x1="49.31" y1="174.20" x2="53.71" y2="174.20" stroke="#c85aa8" stroke-width="0.8"/>
<line x1="63.42" y1="161.90" x2="63.42" y2="180.20" stroke="#c85aa8" stroke-width="0.8"/>
<line x1="61.22" y1="161.90" x2="65.62" y2="161.90" stroke="#c85aa8" stroke-width="0.8"/>
<line x1="61.22" y1="180.20" x2="65.62" y2="180.20" stroke="#c85aa8" stroke-width="0.8"/>
<polyline points="43.57,159.30 51.51,164.00 63.42,165.80" fill="none" stroke="#9a2a70" stroke-width="0.95"/>
<circle cx="43.57" cy="159.30" r="1.25" fill="#7a1850"/>
<circle cx="51.51" cy="164.00" r="1.25" fill="#7a1850"/>
<circle cx="63.42" cy="165.80" r="1.25" fill="#7a1850"/>
<line x1="134.88" y1="185.40" x2="134.88" y2="198.60" stroke="#3e4c9a" stroke-width="0.8"/>
<line x1="132.68" y1="185.40" x2="137.08" y2="185.40" stroke="#3e4c9a" stroke-width="0.8"/>
<line x1="132.68" y1="198.60" x2="137.08" y2="198.60" stroke="#3e4c9a" stroke-width="0.8"/>
<line x1="134.88" y1="190.00" x2="134.88" y2="214.00" stroke="#9a1f2e" stroke-width="0.8"/>
<line x1="132.68" y1="190.00" x2="137.08" y2="190.00" stroke="#9a1f2e" stroke-width="0.8"/>
<line x1="132.68" y1="214.00" x2="137.08" y2="214.00" stroke="#9a1f2e" stroke-width="0.8"/>
<polyline points="63.42,220.00 134.88,191.90" fill="none" stroke="#4a66b0" stroke-width="0.95"/>
<polyline points="63.42,221.80 134.88,199.70" fill="none" stroke="#b53a40" stroke-width="0.95"/>
<rect x="62.02" y="219.3" width="2.8" height="3.6" fill="#7a2236"/>
<circle cx="134.88" cy="191.90" r="1.3" fill="#3e4c9a"/>
<circle cx="134.88" cy="199.70" r="1.3" fill="#9a1f2e"/>
<line x1="181.20" y1="181.10" x2="191.00" y2="181.10" stroke="#c878b0" stroke-width="1.1"/>
<circle cx="186.10" cy="181.10" r="1.5" fill="#6e1a4a"/>
<text x="195.40" y="183.57" font-size="6.3" text-anchor="start" fill="#111" stroke="#111" stroke-width="0.08">Blood Conc.</text>
<line x1="181.20" y1="190.70" x2="191.00" y2="190.70" stroke="#4a64b0" stroke-width="1.1"/>
<circle cx="186.10" cy="190.70" r="1.5" fill="#22306a"/>
<text x="195.40" y="193.17" font-size="6.3" text-anchor="start" fill="#111" stroke="#111" stroke-width="0.08">Free KRAS<tspan font-size="3.8" dy="-2.2">G12C</tspan></text>
<line x1="181.20" y1="199.80" x2="191.00" y2="199.80" stroke="#a83038" stroke-width="1.1"/>
<circle cx="186.10" cy="199.80" r="1.5" fill="#5e0a18"/>
<text x="195.40" y="202.27" font-size="6.3" text-anchor="start" fill="#111" stroke="#111" stroke-width="0.08">DUSP6 expression</text>
<text x="368.70" y="142.27" font-size="6.3" text-anchor="middle" font-weight="bold" fill="#111" stroke="#111" stroke-width="0.32">Total KRAS (Peptide KRAS1)</text>
<line x1="303.50" y1="153.80" x2="303.50" y2="240.90" stroke="#1a1a1a" stroke-width="1.0"/>
<line x1="299.50" y1="240.50" x2="303.50" y2="240.50" stroke="#1a1a1a" stroke-width="1.0"/>
<text x="295.50" y="243.27" font-size="6.3" text-anchor="end" fill="#111" stroke="#111" stroke-width="0.08">0.0</text>
<line x1="301.00" y1="231.90" x2="303.50" y2="231.90" stroke="#1a1a1a" stroke-width="1.0"/>
<line x1="299.50" y1="223.30" x2="303.50" y2="223.30" stroke="#1a1a1a" stroke-width="1.0"/>
<text x="295.50" y="226.07" font-size="6.3" text-anchor="end" fill="#111" stroke="#111" stroke-width="0.08">0.2</text>
<line x1="301.00" y1="214.70" x2="303.50" y2="214.70" stroke="#1a1a1a" stroke-width="1.0"/>
<line x1="299.50" y1="206.10" x2="303.50" y2="206.10" stroke="#1a1a1a" stroke-width="1.0"/>
<text x="295.50" y="208.87" font-size="6.3" text-anchor="end" fill="#111" stroke="#111" stroke-width="0.08">0.4</text>
<line x1="301.00" y1="197.50" x2="303.50" y2="197.50" stroke="#1a1a1a" stroke-width="1.0"/>
<line x1="299.50" y1="188.90" x2="303.50" y2="188.90" stroke="#1a1a1a" stroke-width="1.0"/>
<text x="295.50" y="191.67" font-size="6.3" text-anchor="end" fill="#111" stroke="#111" stroke-width="0.08">0.6</text>
<line x1="301.00" y1="180.30" x2="303.50" y2="180.30" stroke="#1a1a1a" stroke-width="1.0"/>
<line x1="299.50" y1="171.70" x2="303.50" y2="171.70" stroke="#1a1a1a" stroke-width="1.0"/>
<text x="295.50" y="174.47" font-size="6.3" text-anchor="end" fill="#111" stroke="#111" stroke-width="0.08">0.8</text>
<line x1="301.00" y1="163.10" x2="303.50" y2="163.10" stroke="#1a1a1a" stroke-width="1.0"/>
<line x1="299.50" y1="154.50" x2="303.50" y2="154.50" stroke="#1a1a1a" stroke-width="1.0"/>
<text x="295.50" y="157.27" font-size="6.3" text-anchor="end" fill="#111" stroke="#111" stroke-width="0.08">1.0</text>
<line x1="303.00" y1="240.90" x2="434.20" y2="240.90" stroke="#1a1a1a" stroke-width="1.2"/>
<line x1="323.80" y1="240.90" x2="323.80" y2="244.20" stroke="#1a1a1a" stroke-width="1.0"/>
<text x="323.80" y="253.27" font-size="6.3" text-anchor="middle" fill="#111" stroke="#111" stroke-width="0.08">d18</text>
<line x1="354.00" y1="240.90" x2="354.00" y2="244.20" stroke="#1a1a1a" stroke-width="1.0"/>
<text x="354.00" y="253.27" font-size="6.3" text-anchor="middle" fill="#111" stroke="#111" stroke-width="0.08">d18</text>
<line x1="384.30" y1="240.90" x2="384.30" y2="244.20" stroke="#1a1a1a" stroke-width="1.0"/>
<text x="384.30" y="253.27" font-size="6.3" text-anchor="middle" fill="#111" stroke="#111" stroke-width="0.08">d18</text>
<line x1="414.40" y1="240.90" x2="414.40" y2="244.20" stroke="#1a1a1a" stroke-width="1.0"/>
<text x="414.40" y="253.27" font-size="6.3" text-anchor="middle" fill="#111" stroke="#111" stroke-width="0.08">d32</text>
<text x="271.30" y="199.30" font-size="6.3" text-anchor="middle" font-weight="bold" fill="#111" stroke="#111" stroke-width="0.32" transform="rotate(-90 271.30 199.30)">Normalized</text>
<text x="277.50" y="199.30" font-size="6.3" text-anchor="middle" font-weight="bold" fill="#111" stroke="#111" stroke-width="0.32" transform="rotate(-90 277.50 199.30)">peptide intensity</text>
<polyline points="323.80,159.70 323.80,156.90 414.30,156.90 414.30,159.70" fill="none" stroke="#151515" stroke-width="1.0"/>
<text x="369.00" y="155.37" font-size="4.5" text-anchor="middle" fill="#111" stroke="#111" stroke-width="0.08">*</text>
<polyline points="323.80,203.70 323.80,200.70 384.40,200.70 384.40,203.70" fill="none" stroke="#151515" stroke-width="1.0"/>
<text x="353.50" y="199.07" font-size="4.5" text-anchor="middle" fill="#111" stroke="#111" stroke-width="0.08">*</text>
<polyline points="323.80,217.70 323.80,214.70 354.10,214.70 354.10,217.70" fill="none" stroke="#151515" stroke-width="1.0"/>
<text x="339.40" y="211.87" font-size="6.3" text-anchor="middle" fill="#111" stroke="#111" stroke-width="0.08">ns</text>
<circle cx="316.00" cy="227.90" r="1.4" fill="#111"/>
<circle cx="320.70" cy="227.70" r="1.4" fill="#111"/>
<circle cx="326.40" cy="227.90" r="1.4" fill="#111"/>
<circle cx="332.10" cy="227.80" r="1.4" fill="#111"/>
<circle cx="320.90" cy="232.40" r="1.4" fill="#111"/>
<circle cx="326.40" cy="232.40" r="1.4" fill="#111"/>
<line x1="314.30" y1="228.90" x2="333.40" y2="228.90" stroke="#111" stroke-width="0.9"/>
<circle cx="349.20" cy="226.70" r="1.4" fill="#5e3c7a"/>
<circle cx="345.20" cy="230.90" r="1.4" fill="#5e3c7a"/>
<circle cx="352.10" cy="230.10" r="1.4" fill="#5e3c7a"/>
<circle cx="355.60" cy="229.00" r="1.4" fill="#5e3c7a"/>
<circle cx="358.50" cy="231.30" r="1.4" fill="#5e3c7a"/>
<circle cx="362.50" cy="229.50" r="1.4" fill="#5e3c7a"/>
<polyline points="344.30,230.90 349.20,229.50 352.10,230.10 355.60,229.40 358.50,230.60 363.30,229.80" fill="none" stroke="#6a4a88" stroke-width="0.9"/>
<circle cx="376.30" cy="225.80" r="1.4" fill="#2a4282"/>
<circle cx="381.00" cy="225.80" r="1.4" fill="#2a4282"/>
<circle cx="385.00" cy="225.80" r="1.4" fill="#2a4282"/>
<circle cx="389.30" cy="225.80" r="1.4" fill="#2a4282"/>
<circle cx="392.50" cy="225.80" r="1.4" fill="#2a4282"/>
<circle cx="392.50" cy="223.20" r="1.4" fill="#2a4282"/>
<circle cx="392.50" cy="228.10" r="1.4" fill="#2a4282"/>
<line x1="374.00" y1="225.80" x2="394.20" y2="225.80" stroke="#2f4a8a" stroke-width="0.9"/>
<circle cx="414.30" cy="163.60" r="1.4" fill="#7e0c1e"/>
<circle cx="414.30" cy="170.10" r="1.4" fill="#7e0c1e"/>
<circle cx="410.00" cy="178.00" r="1.4" fill="#7e0c1e"/>
<circle cx="417.90" cy="175.80" r="1.4" fill="#7e0c1e"/>
<circle cx="414.30" cy="181.50" r="1.4" fill="#7e0c1e"/>
<circle cx="414.30" cy="188.70" r="1.4" fill="#7e0c1e"/>
<line x1="403.90" y1="176.80" x2="425.40" y2="176.80" stroke="#222" stroke-width="0.9"/>
<circle cx="444.70" cy="180.20" r="1.65" fill="#000"/>
<text x="453.00" y="183.07" font-size="6.3" text-anchor="start" fill="#111" stroke="#111" stroke-width="0.08">Vehicle</text>
<circle cx="444.70" cy="189.90" r="1.65" fill="#4e3466"/>
<text x="453.00" y="192.77" font-size="6.3" text-anchor="start" fill="#111" stroke="#111" stroke-width="0.08">JDQ443 10 mg/kg QD</text>
<circle cx="444.70" cy="199.60" r="1.65" fill="#263664"/>
<text x="453.00" y="202.47" font-size="6.3" text-anchor="start" fill="#111" stroke="#111" stroke-width="0.08">JDQ443 30 mg/kg QD</text>
<circle cx="444.70" cy="209.30" r="1.65" fill="#5e1222"/>
<text x="453.00" y="212.17" font-size="6.3" text-anchor="start" fill="#111" stroke="#111" stroke-width="0.08">JDQ443 100 mg/kg QD</text>
<text x="99.90" y="272.57" font-size="6.3" text-anchor="middle" font-weight="bold" fill="#111" stroke="#111" stroke-width="0.32">KRAS/HRAS/NRAS (Wild-type)</text>
<line x1="38.50" y1="282.40" x2="38.50" y2="369.30" stroke="#1a1a1a" stroke-width="1.0"/>
<line x1="34.50" y1="368.90" x2="38.50" y2="368.90" stroke="#1a1a1a" stroke-width="1.0"/>
<text x="31.30" y="371.77" font-size="6.3" text-anchor="end" fill="#111" stroke="#111" stroke-width="0.08">0.0</text>
<line x1="36.00" y1="360.34" x2="38.50" y2="360.34" stroke="#1a1a1a" stroke-width="1.0"/>
<line x1="34.50" y1="351.78" x2="38.50" y2="351.78" stroke="#1a1a1a" stroke-width="1.0"/>
<text x="31.30" y="354.65" font-size="6.3" text-anchor="end" fill="#111" stroke="#111" stroke-width="0.08">0.2</text>
<line x1="36.00" y1="343.22" x2="38.50" y2="343.22" stroke="#1a1a1a" stroke-width="1.0"/>
<line x1="34.50" y1="334.66" x2="38.50" y2="334.66" stroke="#1a1a1a" stroke-width="1.0"/>
<text x="31.30" y="337.53" font-size="6.3" text-anchor="end" fill="#111" stroke="#111" stroke-width="0.08">0.4</text>
<line x1="36.00" y1="326.10" x2="38.50" y2="326.10" stroke="#1a1a1a" stroke-width="1.0"/>
<line x1="34.50" y1="317.54" x2="38.50" y2="317.54" stroke="#1a1a1a" stroke-width="1.0"/>
<text x="31.30" y="320.41" font-size="6.3" text-anchor="end" fill="#111" stroke="#111" stroke-width="0.08">0.6</text>
<line x1="36.00" y1="308.98" x2="38.50" y2="308.98" stroke="#1a1a1a" stroke-width="1.0"/>
<line x1="34.50" y1="300.42" x2="38.50" y2="300.42" stroke="#1a1a1a" stroke-width="1.0"/>
<text x="31.30" y="303.29" font-size="6.3" text-anchor="end" fill="#111" stroke="#111" stroke-width="0.08">0.8</text>
<line x1="36.00" y1="291.86" x2="38.50" y2="291.86" stroke="#1a1a1a" stroke-width="1.0"/>
<line x1="34.50" y1="283.30" x2="38.50" y2="283.30" stroke="#1a1a1a" stroke-width="1.0"/>
<text x="31.30" y="286.17" font-size="6.3" text-anchor="end" fill="#111" stroke="#111" stroke-width="0.08">1.0</text>
<line x1="38.05" y1="369.10" x2="163.60" y2="369.10" stroke="#1a1a1a" stroke-width="1.0"/>
<line x1="58.50" y1="369.10" x2="58.50" y2="372.20" stroke="#1a1a1a" stroke-width="1.0"/>
<text x="58.50" y="381.57" font-size="6.3" text-anchor="middle" fill="#111" stroke="#111" stroke-width="0.08">d18</text>
<line x1="87.30" y1="369.10" x2="87.30" y2="372.20" stroke="#1a1a1a" stroke-width="1.0"/>
<text x="87.30" y="381.57" font-size="6.3" text-anchor="middle" fill="#111" stroke="#111" stroke-width="0.08">d18</text>
<line x1="116.10" y1="369.10" x2="116.10" y2="372.20" stroke="#1a1a1a" stroke-width="1.0"/>
<text x="116.10" y="381.57" font-size="6.3" text-anchor="middle" fill="#111" stroke="#111" stroke-width="0.08">d18</text>
<line x1="145.20" y1="369.10" x2="145.20" y2="372.20" stroke="#1a1a1a" stroke-width="1.0"/>
<text x="145.20" y="381.57" font-size="6.3" text-anchor="middle" fill="#111" stroke="#111" stroke-width="0.08">d32</text>
<text x="8.20" y="327.90" font-size="6.3" text-anchor="middle" font-weight="bold" fill="#111" stroke="#111" stroke-width="0.32" transform="rotate(-90 8.20 327.90)">Normalized</text>
<text x="13.60" y="327.90" font-size="6.3" text-anchor="middle" font-weight="bold" fill="#111" stroke="#111" stroke-width="0.32" transform="rotate(-90 13.60 327.90)">peptide intensity</text>
<polyline points="58.50,288.90 58.50,286.30 145.20,286.30 145.20,288.90" fill="none" stroke="#151515" stroke-width="1.0"/>
<text x="101.60" y="284.47" font-size="4.5" text-anchor="middle" fill="#111" stroke="#111" stroke-width="0.08">*</text>
<polyline points="58.50,300.30 58.50,297.40 87.30,297.40 87.30,300.30" fill="none" stroke="#151515" stroke-width="1.0"/>
<text x="73.00" y="296.17" font-size="4.5" text-anchor="middle" fill="#111" stroke="#111" stroke-width="0.08">*</text>
<polyline points="59.50,347.60 59.50,351.10 116.80,351.10 116.80,347.60" fill="none" stroke="#151515" stroke-width="1.0"/>
<text x="88.10" y="347.27" font-size="6.3" text-anchor="middle" fill="#111" stroke="#111" stroke-width="0.08">ns</text>
<circle cx="58.90" cy="305.20" r="1.4" fill="#111"/>
<circle cx="50.40" cy="314.30" r="1.4" fill="#111"/>
<circle cx="58.70" cy="316.30" r="1.4" fill="#111"/>
<circle cx="66.90" cy="314.30" r="1.4" fill="#111"/>
<circle cx="54.60" cy="326.30" r="1.4" fill="#111"/>
<circle cx="62.50" cy="323.50" r="1.4" fill="#111"/>
<line x1="49.30" y1="316.30" x2="69.20" y2="316.30" stroke="#111" stroke-width="0.9"/>
<circle cx="79.80" cy="322.20" r="1.4" fill="#5e3c7a"/>
<circle cx="84.80" cy="323.70" r="1.4" fill="#5e3c7a"/>
<circle cx="90.90" cy="323.10" r="1.4" fill="#5e3c7a"/>
<circle cx="97.30" cy="322.50" r="1.4" fill="#5e3c7a"/>
<circle cx="87.60" cy="329.30" r="1.4" fill="#5e3c7a"/>
<circle cx="87.60" cy="334.90" r="1.4" fill="#5e3c7a"/>
<line x1="78.00" y1="322.90" x2="98.50" y2="322.90" stroke="#6a4a88" stroke-width="0.9"/>
<circle cx="116.70" cy="315.50" r="1.4" fill="#2a4282"/>
<circle cx="108.10" cy="326.10" r="1.4" fill="#2a4282"/>
<circle cx="108.10" cy="323.00" r="1.4" fill="#2a4282"/>
<circle cx="114.10" cy="321.60" r="1.4" fill="#2a4282"/>
<circle cx="119.40" cy="324.30" r="1.4" fill="#2a4282"/>
<circle cx="124.80" cy="324.00" r="1.4" fill="#2a4282"/>
<line x1="106.30" y1="323.60" x2="126.00" y2="323.60" stroke="#2f4a8a" stroke-width="0.9"/>
<circle cx="137.50" cy="327.30" r="1.4" fill="#7e0c1e"/>
<circle cx="142.90" cy="324.10" r="1.4" fill="#7e0c1e"/>
<circle cx="148.40" cy="324.80" r="1.4" fill="#7e0c1e"/>
<circle cx="154.00" cy="327.50" r="1.4" fill="#7e0c1e"/>
<circle cx="142.70" cy="332.70" r="1.4" fill="#7e0c1e"/>
<circle cx="148.40" cy="330.00" r="1.4" fill="#7e0c1e"/>
<line x1="136.30" y1="327.30" x2="157.10" y2="327.30" stroke="#5a1a20" stroke-width="0.9"/>
<circle cx="173.80" cy="312.10" r="1.65" fill="#000"/>
<text x="182.10" y="314.37" font-size="6.3" text-anchor="start" fill="#111" stroke="#111" stroke-width="0.08">Vehicle</text>
<circle cx="173.80" cy="321.75" r="1.65" fill="#4e3466"/>
<text x="182.10" y="324.02" font-size="6.3" text-anchor="start" fill="#111" stroke="#111" stroke-width="0.08">JDQ443 10 mg/kg QD</text>
<circle cx="173.80" cy="331.40" r="1.65" fill="#263664"/>
<text x="182.10" y="333.67" font-size="6.3" text-anchor="start" fill="#111" stroke="#111" stroke-width="0.08">JDQ443 30 mg/kg QD</text>
<circle cx="173.80" cy="341.05" r="1.65" fill="#5e1222"/>
<text x="182.10" y="343.32" font-size="6.3" text-anchor="start" fill="#111" stroke="#111" stroke-width="0.08">JDQ443 100 mg/kg QD</text>
<line x1="296.90" y1="272.30" x2="296.90" y2="370.20" stroke="#1a1a1a" stroke-width="1.0"/>
<line x1="292.90" y1="369.80" x2="296.90" y2="369.80" stroke="#1a1a1a" stroke-width="1.0"/>
<text x="289.10" y="372.67" font-size="6.3" text-anchor="end" fill="#111" stroke="#111" stroke-width="0.08">0</text>
<line x1="292.90" y1="337.43" x2="296.90" y2="337.43" stroke="#1a1a1a" stroke-width="1.0"/>
<text x="289.10" y="340.30" font-size="6.3" text-anchor="end" fill="#111" stroke="#111" stroke-width="0.08">2</text>
<line x1="292.90" y1="305.07" x2="296.90" y2="305.07" stroke="#1a1a1a" stroke-width="1.0"/>
<text x="289.10" y="307.93" font-size="6.3" text-anchor="end" fill="#111" stroke="#111" stroke-width="0.08">4</text>
<line x1="292.90" y1="272.70" x2="296.90" y2="272.70" stroke="#1a1a1a" stroke-width="1.0"/>
<text x="289.10" y="275.57" font-size="6.3" text-anchor="end" fill="#111" stroke="#111" stroke-width="0.08">6</text>
<line x1="296.40" y1="369.90" x2="433.80" y2="369.90" stroke="#1a1a1a" stroke-width="1.2"/>
<line x1="318.70" y1="370.00" x2="318.70" y2="373.10" stroke="#1a1a1a" stroke-width="1.0"/>
<text x="318.70" y="382.27" font-size="6.3" text-anchor="middle" fill="#111" stroke="#111" stroke-width="0.08">d18</text>
<line x1="350.40" y1="370.00" x2="350.40" y2="373.10" stroke="#1a1a1a" stroke-width="1.0"/>
<text x="350.40" y="382.27" font-size="6.3" text-anchor="middle" fill="#111" stroke="#111" stroke-width="0.08">d18</text>
<line x1="381.70" y1="370.00" x2="381.70" y2="373.10" stroke="#1a1a1a" stroke-width="1.0"/>
<text x="381.70" y="382.27" font-size="6.3" text-anchor="middle" fill="#111" stroke="#111" stroke-width="0.08">d18</text>
<line x1="412.70" y1="370.00" x2="412.70" y2="373.10" stroke="#1a1a1a" stroke-width="1.0"/>
<text x="412.70" y="382.27" font-size="6.3" text-anchor="middle" fill="#111" stroke="#111" stroke-width="0.08">d32</text>
<text x="270.40" y="319.50" font-size="6.3" text-anchor="middle" font-weight="bold" fill="#111" stroke="#111" stroke-width="0.32" transform="rotate(-90 270.40 319.50)">Fold change</text>
<text x="276.60" y="319.50" font-size="6.3" text-anchor="middle" font-weight="bold" fill="#111" stroke="#111" stroke-width="0.32" transform="rotate(-90 276.60 319.50)">KRAS expression</text>
<polyline points="317.40,276.50 317.40,271.00 392.50,271.00 392.50,276.50" fill="none" stroke="#151515" stroke-width="1.0"/>
<line x1="378.00" y1="276.50" x2="409.40" y2="276.50" stroke="#151515" stroke-width="1.0"/>
<text x="355.50" y="270.67" font-size="4.5" text-anchor="middle" fill="#111" stroke="#111" stroke-width="0.08">*</text>
<polyline points="318.70,316.30 318.70,312.70 349.40,312.70 349.40,316.30" fill="none" stroke="#151515" stroke-width="1.0"/>
<text x="333.30" y="308.57" font-size="6.3" text-anchor="middle" fill="#111" stroke="#111" stroke-width="0.08">ns</text>
<circle cx="309.60" cy="355.00" r="1.4" fill="#111"/>
<circle cx="314.40" cy="354.20" r="1.4" fill="#111"/>
<circle cx="318.80" cy="354.20" r="1.4" fill="#111"/>
<circle cx="323.00" cy="354.40" r="1.4" fill="#111"/>
<circle cx="327.50" cy="352.10" r="1.4" fill="#111"/>
<circle cx="327.50" cy="356.30" r="1.4" fill="#111"/>
<line x1="307.70" y1="354.40" x2="328.80" y2="354.40" stroke="#111" stroke-width="0.9"/>
<circle cx="341.30" cy="353.00" r="1.4" fill="#5e3c7a"/>
<circle cx="345.20" cy="350.60" r="1.4" fill="#5e3c7a"/>
<circle cx="349.00" cy="351.50" r="1.4" fill="#5e3c7a"/>
<circle cx="351.90" cy="350.60" r="1.4" fill="#5e3c7a"/>
<circle cx="355.80" cy="353.50" r="1.4" fill="#5e3c7a"/>
<circle cx="357.70" cy="351.20" r="1.4" fill="#5e3c7a"/>
<line x1="339.40" y1="351.70" x2="360.60" y2="351.70" stroke="#6a4a88" stroke-width="0.9"/>
<circle cx="381.20" cy="343.50" r="1.4" fill="#2a4282"/>
<circle cx="372.10" cy="348.80" r="1.4" fill="#2a4282"/>
<circle cx="376.00" cy="348.80" r="1.4" fill="#2a4282"/>
<circle cx="380.80" cy="349.80" r="1.4" fill="#2a4282"/>
<circle cx="385.60" cy="349.80" r="1.4" fill="#2a4282"/>
<circle cx="389.40" cy="349.80" r="1.4" fill="#2a4282"/>
<line x1="370.80" y1="348.80" x2="392.30" y2="348.80" stroke="#2f4a8a" stroke-width="0.9"/>
<circle cx="408.80" cy="291.20" r="1.4" fill="#7e0c1e"/>
<circle cx="416.20" cy="288.50" r="1.4" fill="#7e0c1e"/>
<circle cx="412.70" cy="309.70" r="1.4" fill="#7e0c1e"/>
<circle cx="412.70" cy="317.30" r="1.4" fill="#7e0c1e"/>
<circle cx="408.80" cy="325.40" r="1.4" fill="#7e0c1e"/>
<circle cx="416.20" cy="325.40" r="1.4" fill="#7e0c1e"/>
<line x1="402.30" y1="309.70" x2="424.20" y2="309.70" stroke="#222" stroke-width="0.9"/>
<circle cx="443.90" cy="309.80" r="1.65" fill="#000"/>
<text x="452.70" y="312.07" font-size="6.3" text-anchor="start" fill="#111" stroke="#111" stroke-width="0.08">Vehicle</text>
<circle cx="443.90" cy="319.30" r="1.65" fill="#4e3466"/>
<text x="452.70" y="321.57" font-size="6.3" text-anchor="start" fill="#111" stroke="#111" stroke-width="0.08">JDQ443 10 mg/kg QD</text>
<circle cx="443.90" cy="328.80" r="1.65" fill="#263664"/>
<text x="452.70" y="331.07" font-size="6.3" text-anchor="start" fill="#111" stroke="#111" stroke-width="0.08">JDQ443 30 mg/kg QD</text>
<circle cx="443.90" cy="338.30" r="1.65" fill="#5e1222"/>
<text x="452.70" y="340.57" font-size="6.3" text-anchor="start" fill="#111" stroke="#111" stroke-width="0.08">JDQ443 100 mg/kg QD</text>
</g>
</svg>
</body></html>
